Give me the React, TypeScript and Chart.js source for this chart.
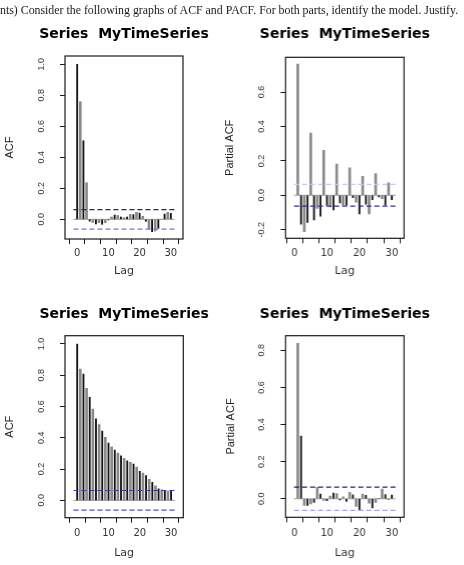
import React, { useEffect, useRef } from 'react';
import { Chart, registerables } from 'chart.js';

Chart.register(...registerables);

// ---------------- data ----------------
const HEADER_TEXT =
  'nts) Consider the following graphs of ACF and PACF. For both parts, identify the model. Justify.';
const PANEL_TITLE = 'Series  MyTimeSeries';

const LAGS_ACF = [0, 1, 2, 3, 4, 5, 6, 7, 8, 9, 10, 11, 12, 13, 14, 15, 16, 17, 18, 19, 20, 21, 22, 23, 24, 25, 26, 27, 28, 29, 30];
const LAGS_PACF = [1, 2, 3, 4, 5, 6, 7, 8, 9, 10, 11, 12, 13, 14, 15, 16, 17, 18, 19, 20, 21, 22, 23, 24, 25, 26, 27, 28, 29, 30];

const ACF_TOP = [1.0, 0.759, 0.507, 0.236, -0.012, -0.02, -0.03, -0.022, -0.032, -0.022, -0.004, 0.015, 0.028, 0.025, 0.015, 0.011, 0.015, 0.032, 0.03, 0.045, 0.04, 0.02, -0.013, -0.062, -0.08, -0.075, -0.058, 0.0, 0.034, 0.045, 0.039];
const PACF_TOP = [0.763, -0.168, -0.212, -0.158, 0.362, -0.143, -0.077, -0.121, 0.262, -0.058, -0.068, -0.085, 0.181, -0.044, -0.058, -0.058, 0.16, -0.014, -0.04, -0.108, 0.11, -0.052, -0.108, -0.025, 0.126, -0.01, -0.02, -0.058, 0.072, -0.025];
const ACF_BOTTOM = [1.0, 0.84, 0.808, 0.716, 0.659, 0.584, 0.522, 0.484, 0.443, 0.403, 0.366, 0.342, 0.321, 0.303, 0.284, 0.268, 0.252, 0.243, 0.232, 0.213, 0.186, 0.174, 0.158, 0.135, 0.115, 0.093, 0.074, 0.067, 0.062, 0.06, 0.06];
const PACF_BOTTOM = [0.838, 0.338, -0.036, -0.036, -0.028, -0.02, 0.062, 0.025, -0.009, -0.01, 0.014, 0.03, 0.028, -0.006, 0.01, -0.015, 0.034, 0.021, -0.042, -0.064, 0.025, 0.019, -0.024, -0.05, -0.02, 0.0, 0.052, 0.022, -0.005, 0.02];

const CONF_LIMIT = 0.063;
const X_TICKS = [0, 5, 10, 15, 20, 25, 30];
const Y_TICKS_ACF = [0, 0.2, 0.4, 0.6, 0.8, 1.0];
const Y_TICKS_PACF_TOP = [-0.2, 0, 0.2, 0.4, 0.6];
const Y_TICKS_PACF_BOTTOM = [0, 0.2, 0.4, 0.6, 0.8];

// ---------------- layout / style ----------------
type Rect = { l: number; r: number; t: number; b: number };
type PanelSpec = {
  left: number; top: number; height: number;
  plot: Rect;
  lags: number[]; values: number[];
  xMin: number; xMax: number; yMin: number; yMax: number;
  yTicks: number[]; yLabel: string;
  titleY: number; xTickY: number; xTitleY: number; yTitleX: number; yTickX: number;
  ciUpper: string; ciLower: string;
};

const PAGE_W = 464;
const PAGE_H = 565;
const TITLE_SIZE = 14;
const X_TICK_SIZE = 10;
const X_TITLE_SIZE = 11;
const Y_TICK_SIZE = 9;
const Y_TITLE_SIZE = 11;
const TICK_LEN = 5;
const SANS = '"DejaVu Sans", sans-serif';
const NARROW = '"Liberation Sans", Arial, sans-serif';

const PANELS: PanelSpec[] = [
  {
    left: 0, top: 0, height: 290,
    plot: { l: 65, r: 183, t: 56, b: 239 },
    lags: LAGS_ACF, values: ACF_TOP,
    xMin: -1.2, xMax: 31.2, yMin: -0.127, yMax: 1.054,
    yTicks: Y_TICKS_ACF, yLabel: 'ACF',
    titleY: 34, xTickY: 253.5, xTitleY: 271, yTitleX: 9.5, yTickX: 42,
    ciUpper: '#22226e', ciLower: '#7777d0',
  },
  {
    left: 218, top: 0, height: 290,
    plot: { l: 285.3, r: 403.3, t: 57.3, b: 238.3 },
    lags: LAGS_PACF, values: PACF_TOP,
    xMin: -0.16, xMax: 31.16, yMin: -0.25, yMax: 0.802,
    yTicks: Y_TICKS_PACF_TOP, yLabel: 'Partial ACF',
    titleY: 34, xTickY: 253.5, xTitleY: 271, yTitleX: 230, yTickX: 262,
    ciUpper: '#c8c8e6', ciLower: '#2e2e9a',
  },
  {
    left: 0, top: 290, height: 275,
    plot: { l: 65, r: 183.3, t: 335.7, b: 517.7 },
    lags: LAGS_ACF, values: ACF_BOTTOM,
    xMin: -1.2, xMax: 31.2, yMin: -0.111, yMax: 1.053,
    yTicks: Y_TICKS_ACF, yLabel: 'ACF',
    titleY: 314, xTickY: 533, xTitleY: 553, yTitleX: 9.5, yTickX: 42,
    ciUpper: '#3c3c9c', ciLower: '#4a4ac8',
  },
  {
    left: 218, top: 290, height: 275,
    plot: { l: 285.3, r: 403.3, t: 335.7, b: 517.3 },
    lags: LAGS_PACF, values: PACF_BOTTOM,
    xMin: -0.16, xMax: 31.16, yMin: -0.1, yMax: 0.879,
    yTicks: Y_TICKS_PACF_BOTTOM, yLabel: 'Partial ACF',
    titleY: 314, xTickY: 533, xTitleY: 553, yTitleX: 231, yTickX: 262,
    ciUpper: '#22226e', ciLower: '#a4a4e2',
  },
];

// canvas width: a mirrored (invisible) right axis balances the left axis so the
// full-width title centres over the plot box
function canvasWidth(p: PanelSpec) {
  const axisW = p.plot.l - p.left;
  return p.plot.r - p.left + axisW;
}

const boxPlugin = {
  id: 'plotBox',
  afterDraw(chart: any) {
    const { ctx, chartArea: a } = chart;
    ctx.save();
    ctx.strokeStyle = '#1a1a1a';
    ctx.lineWidth = 1.2;
    ctx.strokeRect(a.left, a.top, a.right - a.left, a.bottom - a.top);
    ctx.restore();
  },
};

function measure(text: string, font: string): number {
  const c = document.createElement('canvas').getContext('2d');
  if (!c) return text.length * 5;
  c.font = font;
  return c.measureText(text).width;
}

function buildConfig(p: PanelSpec): any {
  const fmtY = (v: number) => Number(v).toFixed(1);
  const widest = Math.max(...p.yTicks.map((v) => measure(fmtY(v), `${Y_TICK_SIZE}px ${NARROW}`)));
  const titlePadTop = p.titleY - p.top - (TITLE_SIZE * 1.2) / 2;
  const titlePadBottom = p.plot.t - p.top - titlePadTop - TITLE_SIZE * 1.2;
  const xTickPad = p.xTickY - p.plot.b - TICK_LEN - (X_TICK_SIZE * 1.2) / 2;
  const xTitlePad = p.top + p.height - p.xTitleY - (X_TITLE_SIZE * 1.2) / 2;
  const yTitlePad = p.yTitleX - p.left - Y_TITLE_SIZE / 2;
  const yTickPad = p.plot.l - p.yTickX - TICK_LEN - widest / 2;
  const xAxisHeight = p.top + p.height - p.plot.b;
  const yAxisWidth = p.plot.l - p.left;

  const points = p.lags.map((lag, i) => ({ x: lag, y: p.values[i] }));
  const evenPts = points.filter((d) => d.x % 2 === 0);
  const oddPts = points.filter((d) => d.x % 2 !== 0);
  const hLine = (y: number) => [
    { x: p.xMin, y },
    { x: p.xMax, y },
  ];

  return {
    type: 'bar',
    data: {
      datasets: [
        { type: 'line', data: hLine(0), borderColor: '#9c9c9c', borderWidth: 1, pointRadius: 0, order: 3 },
        { type: 'line', data: hLine(CONF_LIMIT), borderColor: p.ciUpper, borderWidth: 1.2, borderDash: [5, 3], pointRadius: 0, order: 0 },
        { type: 'line', data: hLine(-CONF_LIMIT), borderColor: p.ciLower, borderWidth: 1.2, borderDash: [5, 3], pointRadius: 0, order: 0 },
        { type: 'bar', data: evenPts, backgroundColor: '#151515', barThickness: 1.2, grouped: false, borderWidth: 0, order: 2 },
        { type: 'bar', data: oddPts, backgroundColor: '#8a8a8a', barThickness: 2, grouped: false, borderWidth: 0, order: 2 },
      ],
    },
    options: {
      animation: false,
      responsive: true,
      maintainAspectRatio: false,
      events: [],
      layout: { padding: 0 },
      plugins: {
        legend: { display: false },
        tooltip: { enabled: false },
        title: {
          display: true,
          text: PANEL_TITLE,
          color: '#000',
          font: { family: SANS, size: TITLE_SIZE, weight: 'bold', lineHeight: 1.2 },
          padding: { top: titlePadTop, bottom: titlePadBottom },
        },
      },
      scales: {
        x: {
          type: 'linear',
          min: p.xMin,
          max: p.xMax,
          afterBuildTicks: (s: any) => {
            s.ticks = X_TICKS.map((v) => ({ value: v }));
          },
          afterFit: (s: any) => {
            s.height = xAxisHeight;
          },
          border: { display: false },
          grid: { display: true, drawOnChartArea: false, drawTicks: true, tickLength: TICK_LEN, color: '#1a1a1a', lineWidth: 1 },
          ticks: {
            autoSkip: false,
            maxRotation: 0,
            minRotation: 0,
            padding: xTickPad,
            color: '#333',
            font: { family: SANS, size: X_TICK_SIZE, lineHeight: 1.2 },
            callback: (v: any) => (Number(v) % 10 === 0 ? String(v) : ''),
          },
          title: {
            display: true,
            text: 'Lag',
            color: '#333',
            font: { family: SANS, size: X_TITLE_SIZE, lineHeight: 1.2 },
            padding: { top: 0, bottom: xTitlePad },
          },
        },
        y: {
          type: 'linear',
          min: p.yMin,
          max: p.yMax,
          afterBuildTicks: (s: any) => {
            s.ticks = p.yTicks.map((v) => ({ value: v }));
          },
          afterFit: (s: any) => {
            s.width = yAxisWidth;
          },
          border: { display: false },
          grid: { display: true, drawOnChartArea: false, drawTicks: true, tickLength: TICK_LEN, color: '#1a1a1a', lineWidth: 1 },
          ticks: {
            autoSkip: false,
            minRotation: 90,
            maxRotation: 90,
            crossAlign: 'center',
            padding: yTickPad,
            color: '#333',
            font: { family: NARROW, size: Y_TICK_SIZE, lineHeight: 1.2 },
            callback: (v: any) => fmtY(v),
          },
          title: {
            display: true,
            text: p.yLabel,
            color: '#222',
            font: { family: NARROW, size: Y_TITLE_SIZE, lineHeight: 1 },
            padding: { top: yTitlePad, bottom: 0 },
          },
        },
        yBalance: {
          type: 'linear',
          position: 'right',
          display: true,
          afterFit: (s: any) => {
            s.width = yAxisWidth;
          },
          border: { display: false },
          grid: { display: false },
          ticks: { display: false },
          title: { display: false },
        },
      },
    },
    plugins: [boxPlugin],
  };
}

function Panel({ spec }: { spec: PanelSpec }) {
  const ref = useRef<HTMLCanvasElement | null>(null);
  useEffect(() => {
    if (!ref.current) return;
    const chart = new Chart(ref.current, buildConfig(spec));
    return () => chart.destroy();
  }, [spec]);
  return (
    <div
      style={{
        position: 'absolute',
        left: spec.left,
        top: spec.top,
        width: canvasWidth(spec),
        height: spec.height,
      }}
    >
      <canvas ref={ref} />
    </div>
  );
}

export default function App() {
  return (
    <div
      style={{
        position: 'absolute',
        left: 0,
        top: 0,
        width: PAGE_W,
        height: PAGE_H,
        overflow: 'hidden',
        background: '#fff',
      }}
    >
      {PANELS.map((p, i) => (
        <Panel key={i} spec={p} />
      ))}
      <div
        style={{
          position: 'absolute',
          left: 0,
          top: 4,
          fontFamily: '"Liberation Serif", "Times New Roman", serif',
          fontSize: 11.85,
          lineHeight: '12px',
          whiteSpace: 'nowrap',
          color: '#1a1a1a',
          zIndex: 2,
        }}
      >
        {HEADER_TEXT}
      </div>
    </div>
  );
}
